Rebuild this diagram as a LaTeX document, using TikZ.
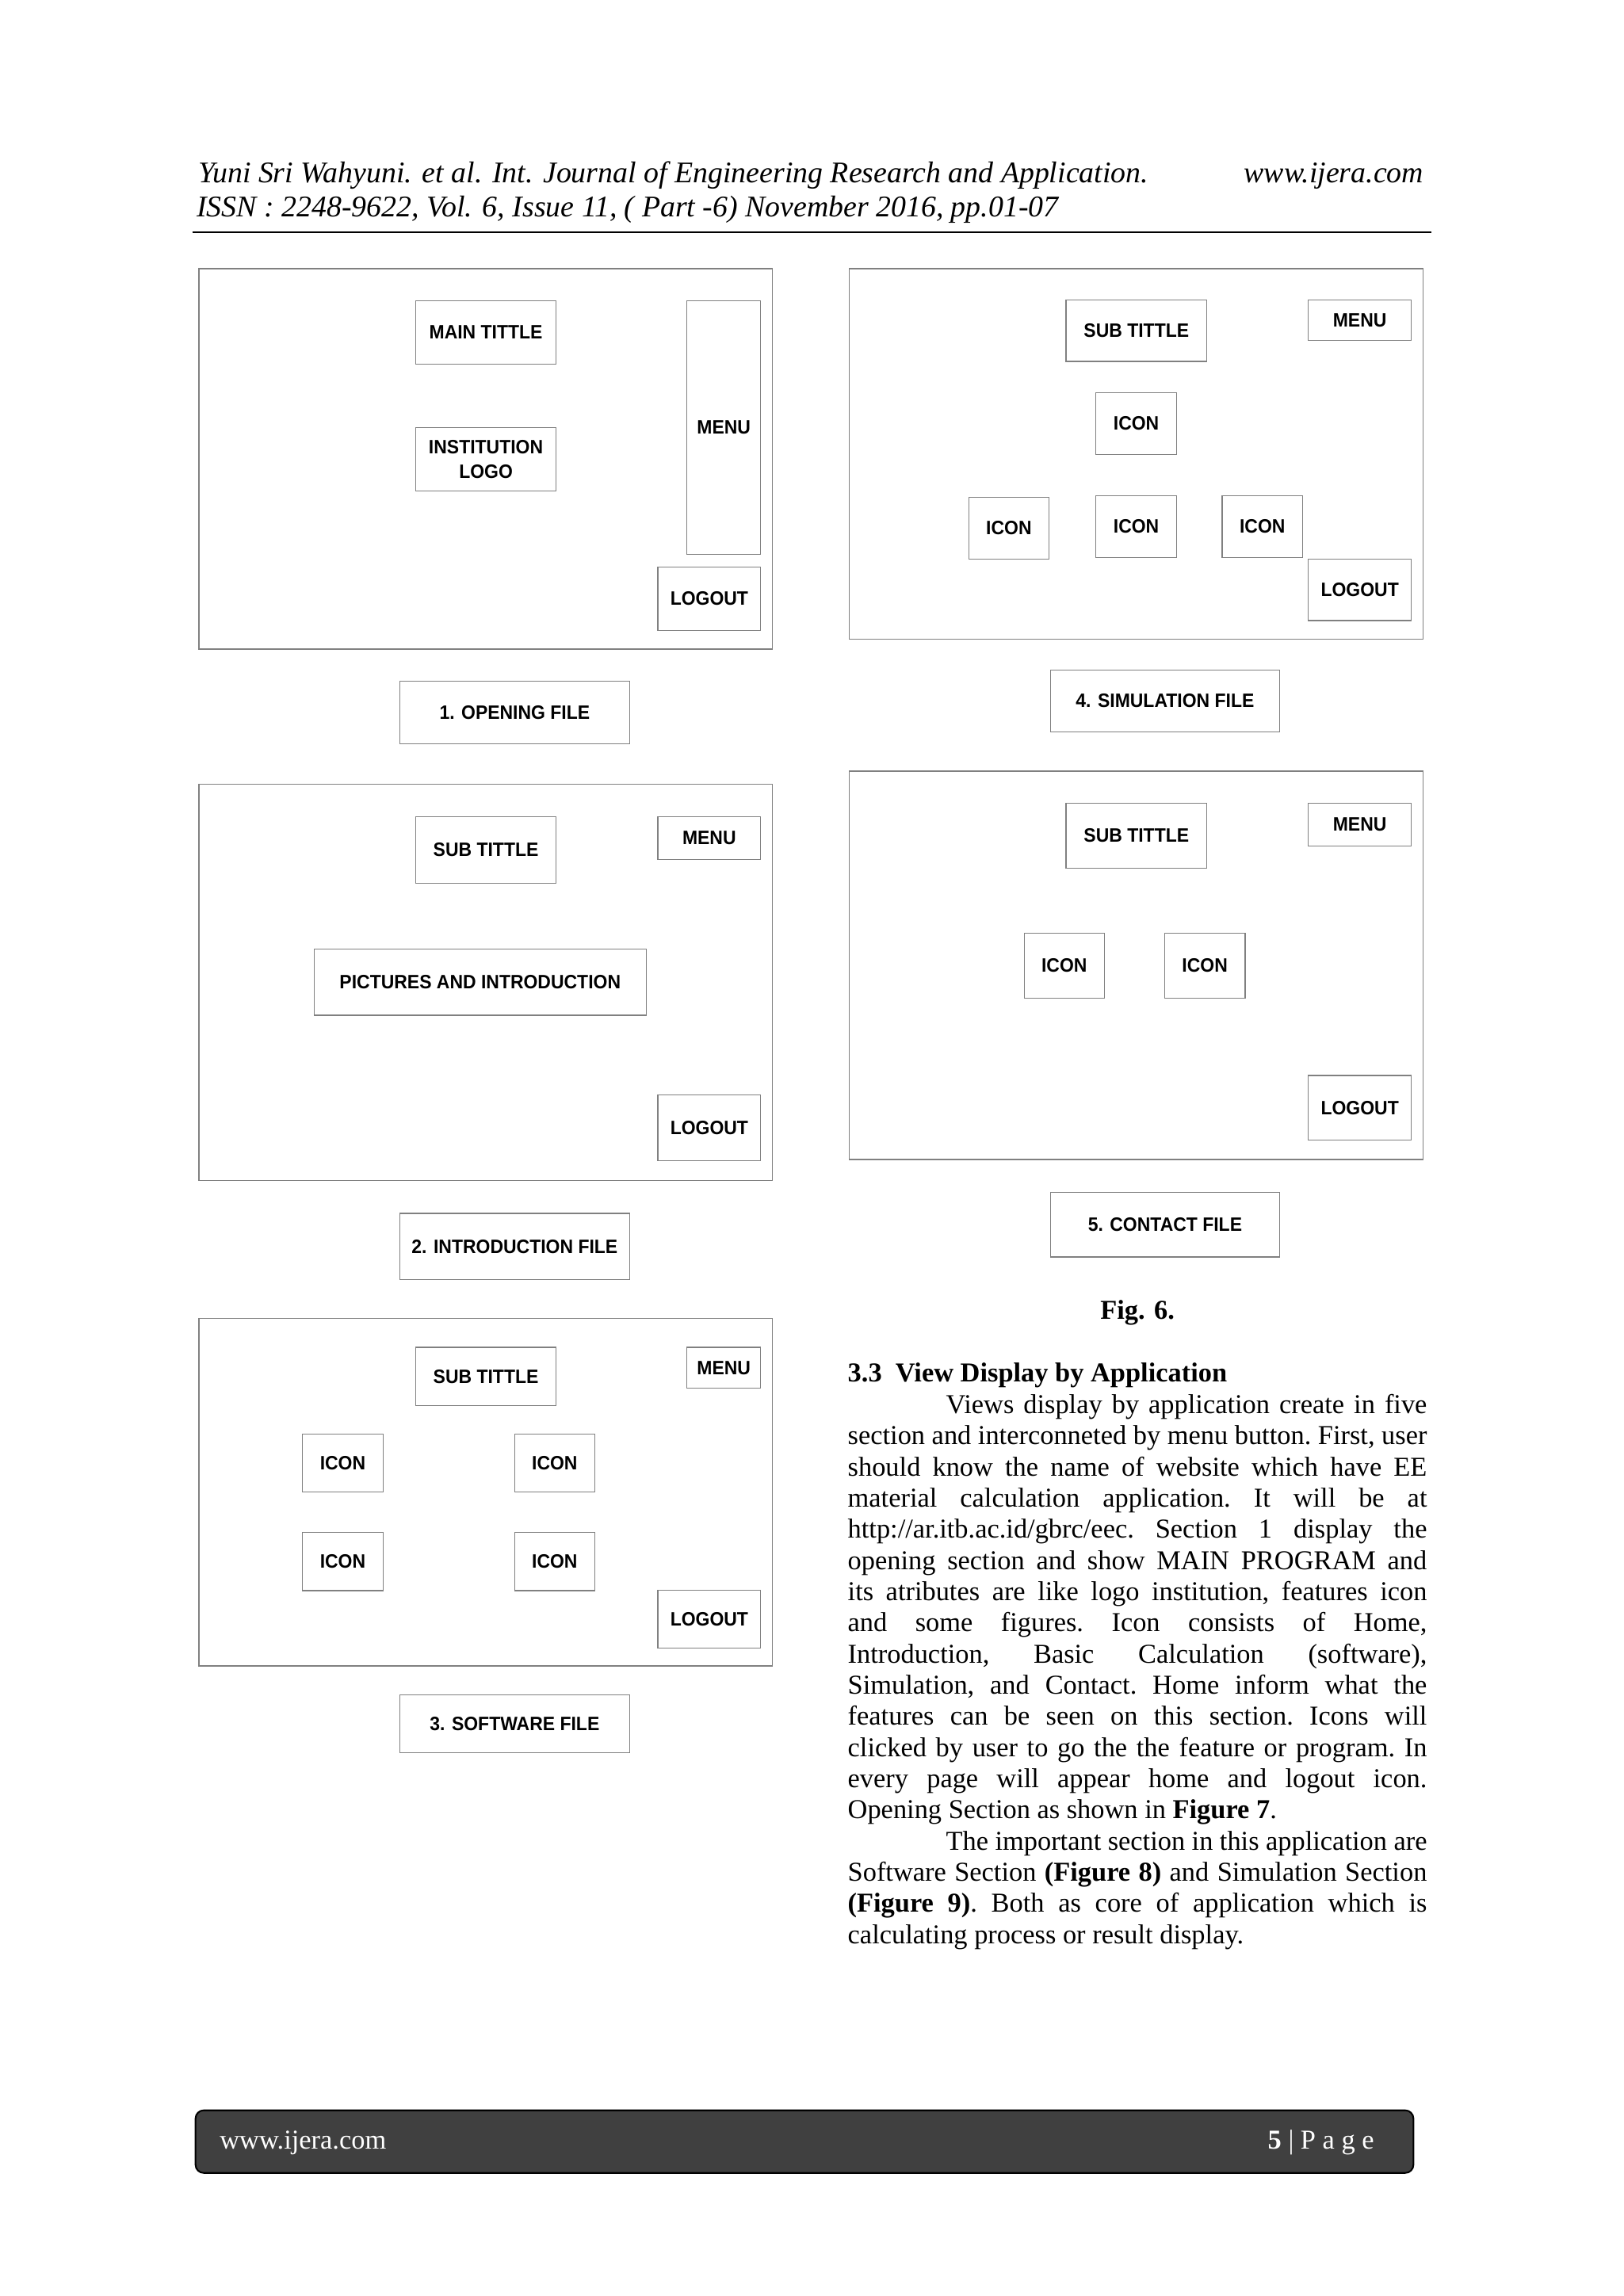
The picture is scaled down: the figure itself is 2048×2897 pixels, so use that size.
\documentclass[tikz,border=0pt]{standalone}
\usepackage{fontspec}
\setmainfont{Liberation Serif}
\setsansfont{Liberation Sans}
\newfontfamily\boxfont[FakeStretch=0.94]{Liberation Sans}
\usetikzlibrary{fit}
\definecolor{boxgray}{rgb}{0.5,0.5,0.5}
\definecolor{footgray}{HTML}{404040}
\newcommand\bx[6]{\node[ibox, fit={(#2,#3) (#4,#5)}, label={[lbl]center:{#6}}] (#1) {};}
\newcommand\scrbox[5]{\node[outer, fit={(#2,#3) (#4,#5)}] (#1) {};}
\begin{document}
\begin{tikzpicture}[x=0.29067pt,y=-0.29067pt,
  ibox/.style={draw=boxgray, line width=0.35pt, inner sep=0pt},
  lbl/.style={inner sep=0pt,
    font=\boxfont\bfseries\fontsize{7.1}{8.9}\selectfont, align=center},
  outer/.style={draw=boxgray, line width=0.45pt, inner sep=0pt},
  hdr/.style={inner sep=0pt, font=\itshape\fontsize{11}{13}\selectfont},
  foot/.style={inner sep=0pt, text=white, font=\fontsize{10}{12}\selectfont}]
\useasboundingbox[fill=white] (0,0) rectangle (2048,2897);

% header
\node[hdr, anchor=base west] (h1) at (250,230) {Yuni Sri Wahyuni. et al. Int. Journal of Engineering Research and Application.};
\node[hdr, anchor=base east] (h2) at (1796.7,230) {www.ijera.com};
\node[hdr, anchor=base west] (h3) at (247.7,273.3) {ISSN : 2248-9622, Vol. 6, Issue 11, ( Part -6) November 2016, pp.01-07};
\coordinate (rl) at (242.7,293.3);
\coordinate (rr) at (1805.7,293.3);
\draw[line width=0.6pt] (rl) -- (rr);

% 1. opening
\scrbox{s1}{250.9}{339}{974.7}{819}
\bx{s1t}{524.5}{379.3}{701.6}{459.6}{MAIN TITTLE}
\bx{s1l}{524.5}{539.5}{701.6}{619.3}{INSTITUTION\\LOGO}
\bx{s1m}{866.7}{379.3}{959.8}{699.6}{MENU}
\bx{s1o}{829.9}{715.4}{959.8}{795.3}{LOGOUT}
\bx{c1}{504.6}{859.3}{794.1}{938.8}{1. OPENING FILE}

% 2. introduction
\scrbox{s2}{250.9}{989.3}{974.7}{1489.3}
\bx{s2t}{524.5}{1030.5}{701.6}{1114.3}{SUB TITTLE}
\bx{s2m}{829.9}{1030.5}{959.8}{1084.8}{MENU}
\bx{s2p}{396.1}{1197.6}{815.5}{1281}{PICTURES AND INTRODUCTION}
\bx{s2o}{829.9}{1381.1}{959.8}{1464.5}{LOGOUT}
\bx{c2}{504.6}{1531}{794.1}{1614.3}{2. INTRODUCTION FILE}

% 3. software
\scrbox{s3}{250.9}{1663.3}{974.7}{2101.7}
\bx{s3t}{524.5}{1700}{701.6}{1773.2}{SUB TITTLE}
\bx{s3m}{866.7}{1700}{959.8}{1751.4}{MENU}
\bx{s3a}{381.7}{1809.4}{483.2}{1882.7}{ICON}
\bx{s3b}{649.4}{1809.4}{750.3}{1882.7}{ICON}
\bx{s3c}{381.7}{1933.7}{483.2}{2007}{ICON}
\bx{s3d}{649.4}{1933.7}{750.3}{2007}{ICON}
\bx{s3o}{829.9}{2006.6}{959.8}{2079.8}{LOGOUT}
\bx{c3}{504.6}{2138.3}{794.1}{2211.2}{3. SOFTWARE FILE}

% 4. simulation
\scrbox{s4}{1071.4}{339}{1795.7}{806.4}
\bx{s4t}{1345}{378.5}{1522.6}{456}{SUB TITTLE}
\bx{s4m}{1650.5}{378.5}{1780.8}{429.1}{MENU}
\bx{s4a}{1382.8}{495.2}{1484.3}{573.1}{ICON}
\bx{s4b}{1222.2}{627.2}{1323.6}{705.1}{ICON}
\bx{s4c}{1382.8}{625.3}{1484.3}{703.2}{ICON}
\bx{s4d}{1542}{625.3}{1643.5}{703.2}{ICON}
\bx{s4o}{1650.5}{705.1}{1780.8}{783}{LOGOUT}
\bx{c4}{1325.1}{845.5}{1614.7}{923.4}{4. SIMULATION FILE}

% 5. contact
\scrbox{s5}{1071.4}{973}{1795.7}{1463}
\bx{s5t}{1345}{1013.5}{1522.6}{1095.5}{SUB TITTLE}
\bx{s5m}{1650.5}{1013.5}{1780.8}{1067.3}{MENU}
\bx{s5a}{1292.3}{1177.6}{1393.3}{1259.3}{ICON}
\bx{s5b}{1469.4}{1177.6}{1570.9}{1259.3}{ICON}
\bx{s5o}{1650.5}{1356.9}{1780.8}{1438.6}{LOGOUT}
\bx{c5}{1325.1}{1504.2}{1614.7}{1585.9}{5. CONTACT FILE}

% caption and text
\node[inner sep=0pt, anchor=base, font=\bfseries\fontsize{10}{12}\selectfont] (fig) at (1435.1,1664.8) {Fig. 6.};
\node[inner sep=0pt, anchor=base west, font=\bfseries\fontsize{10}{12}\selectfont] (sec) at (1069,1743.4) {3.3\ \ View Display by Application};
\node[inner sep=0pt, anchor=base west] (body) at (1069,1783.6) {\parbox[t]{212.4pt}{\fontsize{10}{11.43}\selectfont\frenchspacing
\tolerance=10000 \hyphenpenalty=10000 \parindent=36pt \parskip=0pt
Views display by application create in five\linebreak
section and interconneted by menu button. First, user\linebreak
should know the name of website which have EE\linebreak
material calculation application. It will be at\linebreak
http://ar.itb.ac.id/gbrc/eec. Section 1 display the\linebreak
opening section and show MAIN PROGRAM and\linebreak
its atributes are like logo institution, features icon\linebreak
and some figures. Icon consists of Home,\linebreak
Introduction, Basic Calculation (software),\linebreak
Simulation, and Contact. Home inform what the\linebreak
features can be seen on this section. Icons will\linebreak
clicked by user to go the the feature or program. In\linebreak
every page will appear home and logout icon.\linebreak
Opening Section as shown in \textbf{Figure 7}.\par
The important section in this application are\linebreak
Software Section \textbf{(Figure 8)} and Simulation Section\linebreak
\textbf{(Figure 9)}. Both as core of application which is\linebreak
calculating process or result display.\par}};

% footer
\node[draw=black, line width=0.6pt, fill=footgray, rounded corners=3pt, inner sep=0pt, fit={(246.7,2662.7) (1783.3,2741.7)}] (ft) {};
\node[foot, anchor=base west] (fl) at (276.7,2711) {www.ijera.com};
\node[foot, anchor=base west] (fr) at (1599,2711) {\textbf{5} | P a g e};
\end{tikzpicture}
\end{document}
